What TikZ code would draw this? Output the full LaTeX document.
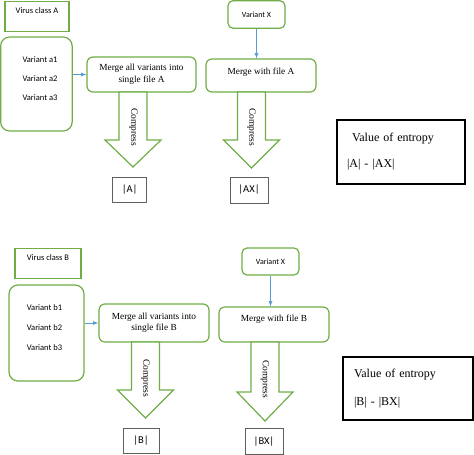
\documentclass[tikz,border=0pt]{standalone}
\usepackage{fontspec}
\setmainfont{Liberation Serif}
\newfontfamily\calibri{Carlito}
\usepackage{tikz}
\usetikzlibrary{arrows}

\definecolor{offgreen}{RGB}{112,173,71}
\definecolor{offblue}{RGB}{91,155,213}
\definecolor{resgrey}{RGB}{95,95,95}

\tikzset{
  classbox/.style={draw=offgreen, line width=1.2pt, inner sep=0pt, font=\calibri\fontsize{8.5}{9}\selectfont},
  varbox/.style={draw=offgreen, line width=1.2pt, rounded corners=9pt, inner sep=0pt},
  vartext/.style={inner sep=0pt, font=\calibri\fontsize{8.5}{9}\selectfont},
  mergebox/.style={draw=offgreen, line width=1.2pt, rounded corners=6pt, inner sep=0pt, align=center, font=\fontsize{9.3}{11.5}\selectfont},
  xbox/.style={draw=offgreen, line width=1.2pt, rounded corners=5pt, inner sep=0pt, font=\calibri\fontsize{8}{9}\selectfont},
  resbox/.style={draw=resgrey, line width=1pt, inner sep=0pt, font=\calibri\fontsize{10.5}{12}\selectfont},
  entbox/.style={draw=black, line width=1.3pt, inner ysep=0pt, align=left, font=\fontsize{12}{14}\selectfont},
  hollow/.style={draw=offgreen, line width=1.2pt, fill=white, line join=miter},
  comptext/.style={rotate=-90, inner sep=0pt, font=\fontsize{9.5}{11}\selectfont},
  feed/.style={draw=offblue, line width=0.8pt, -latex}
}

\begin{document}
\begin{tikzpicture}[x=1pt, y=-1pt]
\useasboundingbox (0,0) rectangle (474,455);

% class A
\node[classbox, anchor=north, minimum width=64, text height=12, text depth=18.5] (vcA) at (37,0.6) {Virus class A};
\node[varbox, minimum width=71.5, minimum height=94] (vA) at (36.4,84) {};
\node[vartext] (va1) at (40,60) {Variant a1};
\node[vartext] (va2) at (40,79) {Variant a2};
\node[vartext] (va3) at (40,98) {Variant a3};
\node[mergebox, minimum width=109, minimum height=35] (mA) at (141.5,74.5) {Merge all variants into\\single file A};
\node[xbox, minimum width=57, minimum height=27.5] (vxA) at (256.5,14.5) {Variant X};
\node[mergebox, minimum width=110, minimum height=33, text height=7, text depth=10] (mwA) at (261,75.5) {Merge with file A};
\node[resbox, minimum width=34.5, minimum height=25] (rA) at (129.7,189.5) {|A|};
\node[resbox, minimum width=38, minimum height=26] (rAX) at (249,190) {|AX|};
\node[entbox, minimum width=128, minimum height=64, inner xsep=10, text width=108] (eA) at (401,152)
  {\hspace*{5pt}Value of entropy\\[12pt]|A| - |AX|};

\draw[feed] (mA.west -| vA.east) -- (mA.west);
\draw[feed] (vxA.south) -- (vxA.south |- mwA.north);

\draw[hollow] (119,92) -- ++(28,0) -- ++(0,48) -- ++(14,0) -- ++(-28,27) -- ++(-28,-27) -- ++(14,0) -- cycle;
\draw[hollow] (237.5,92) -- ++(28,0) -- ++(0,48) -- ++(14,0) -- ++(-28,28) -- ++(-28,-28) -- ++(14,0) -- cycle;
\node[comptext] (cpA) at (133.5,127) {Compress};
\node[comptext] (cpAX) at (251.5,127) {Compress};

% class B
\node[classbox, anchor=north, minimum width=66, text height=11.5, text depth=18.5] (vcB) at (48,248) {Virus class B};
\node[varbox, minimum width=75, minimum height=96] (vB) at (46.5,333) {};
\node[vartext] (vb1) at (44.5,308) {Variant b1};
\node[vartext] (vb2) at (44.5,328) {Variant b2};
\node[vartext] (vb3) at (44.5,348) {Variant b3};
\node[mergebox, minimum width=110, minimum height=38] (mB) at (154,323) {Merge all variants into\\single file B};
\node[xbox, minimum width=57, minimum height=27] (vxB) at (270.5,261.5) {Variant X};
\node[mergebox, minimum width=110, minimum height=35, text height=7, text depth=14] (mwB) at (274,324.5) {Merge with file B};
\node[resbox, minimum width=36, minimum height=25] (rB) at (141,440.5) {|B|};
\node[resbox, minimum width=38, minimum height=25.5] (rBX) at (264,441.7) {|BX|};
\node[entbox, minimum width=130, minimum height=63, inner xsep=11, text width=108] (eB) at (408,388.5)
  {Value of entropy\\[14pt]|B| - |BX|};

\draw[feed] (mB.west -| vB.east) -- (mB.west);
\draw[feed] (vxB.south) -- (vxB.south |- mwB.north);

\draw[hollow] (131.5,342) -- ++(28,0) -- ++(0,48) -- ++(14,0) -- ++(-28,28) -- ++(-28,-28) -- ++(14,0) -- cycle;
\draw[hollow] (251,342) -- ++(28,0) -- ++(0,50) -- ++(14,0) -- ++(-28,29) -- ++(-28,-29) -- ++(14,0) -- cycle;
\node[comptext] (cpB) at (145.5,378) {Compress};
\node[comptext] (cpBX) at (265,379) {Compress};
\end{tikzpicture}
\end{document}
